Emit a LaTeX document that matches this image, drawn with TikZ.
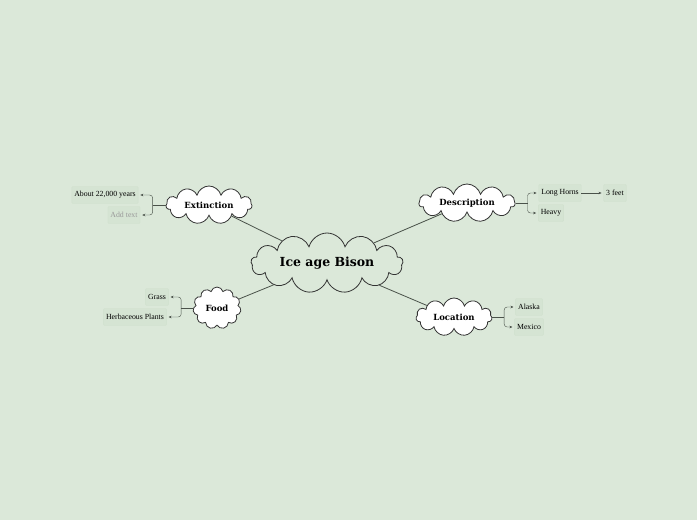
\documentclass[tikz,border=0pt]{standalone}
\usepackage{fontspec}
\setmainfont{Liberation Serif}
\newfontfamily\slabfont{DejaVu Serif}
\usetikzlibrary{positioning, shapes.symbols, arrows.meta}
\definecolor{bgcol}{HTML}{DBE8D9}
\definecolor{leafcol}{HTML}{D0E0CD}
\definecolor{linecol}{HTML}{4A524A}

\begin{document}
\begin{tikzpicture}[
    x=1pt, y=-1pt,
    topic/.style={cloud, cloud puffs=11, cloud ignores aspect, draw=black!80, fill=white, thick, inner sep=0pt, font=\slabfont\bfseries\fontsize{8.5}{10}\selectfont},
    central/.style={topic, fill=bgcol, cloud puffs=13, font=\slabfont\bfseries\fontsize{12.5}{14}\selectfont},
    leaf/.style={rectangle, rounded corners=1pt, draw=leafcol, fill=leafcol!50!bgcol, inner sep=2.5pt, minimum height=17pt, font=\fontsize{7.8}{9}\selectfont},
    link/.style={draw=linecol, thick},
    arrow/.style={draw=linecol, -{Stealth[length=3pt, width=2.5pt]}, shorten >=2pt, rounded corners=3pt}
]

% Background
\fill[bgcol] (0,0) rectangle (697,520);
\useasboundingbox (0,0) rectangle (697,520);

% Central topic
\node[central, minimum width=152pt, minimum height=60pt] (bison) at (327,263) {Ice age Bison};

% Main topics
\node[topic, minimum width=86pt, minimum height=38pt] (extinction) at (209,205) {Extinction};
\node[topic, minimum width=96pt, minimum height=38pt] (description) at (467,203) {Description};
\node[topic, minimum width=48pt, minimum height=42pt] (food) at (217,308) {Food};
\node[topic, minimum width=76pt, minimum height=38pt] (location) at (454,317) {Location};

% Sub topics
\node[leaf] (years) at (105,195) {About 22,000 years};
\node[leaf, text=black!40] (addtext) at (124,215) {Add text};
\node[leaf] (horns) at (560,193) {Long Horns};
\node[leaf] (feet) at (615,193) {3 feet};
\node[leaf] (heavy) at (551,213) {Heavy};
\node[leaf] (grass) at (157,297) {Grass};
\node[leaf] (plants) at (135,317) {Herbaceous Plants};
\node[leaf] (alaska) at (529,307) {Alaska};
\node[leaf] (mexico) at (529,327) {Mexico};

% Junctions
\coordinate[left=13pt of extinction] (extj);
\coordinate[right=12pt of description] (descj);
\coordinate[left=12pt of food] (foodj);
\coordinate[right=12pt of location] (locj);

% Central links
\draw[link] (bison) -- (extinction);
\draw[link] (bison) -- (description);
\draw[link] (bison) -- (food);
\draw[link] (bison) -- (location);

% Branches
\draw[link] (extinction.west) -- (extj);
\draw[arrow] (extj) |- (years.east);
\draw[arrow] (extj) |- (addtext.east);

\draw[link] (description.east) -- (descj);
\draw[arrow] (descj) |- (horns.west);
\draw[arrow] (descj) |- (heavy.west);
\draw[arrow] (horns) -- (feet);

\draw[link] (food.west) -- (foodj);
\draw[arrow] (foodj) |- (grass.east);
\draw[arrow] (foodj) |- (plants.east);

\draw[link] (location.east) -- (locj);
\draw[arrow] (locj) |- (alaska.west);
\draw[arrow] (locj) |- (mexico.west);

\end{tikzpicture}
\end{document}
